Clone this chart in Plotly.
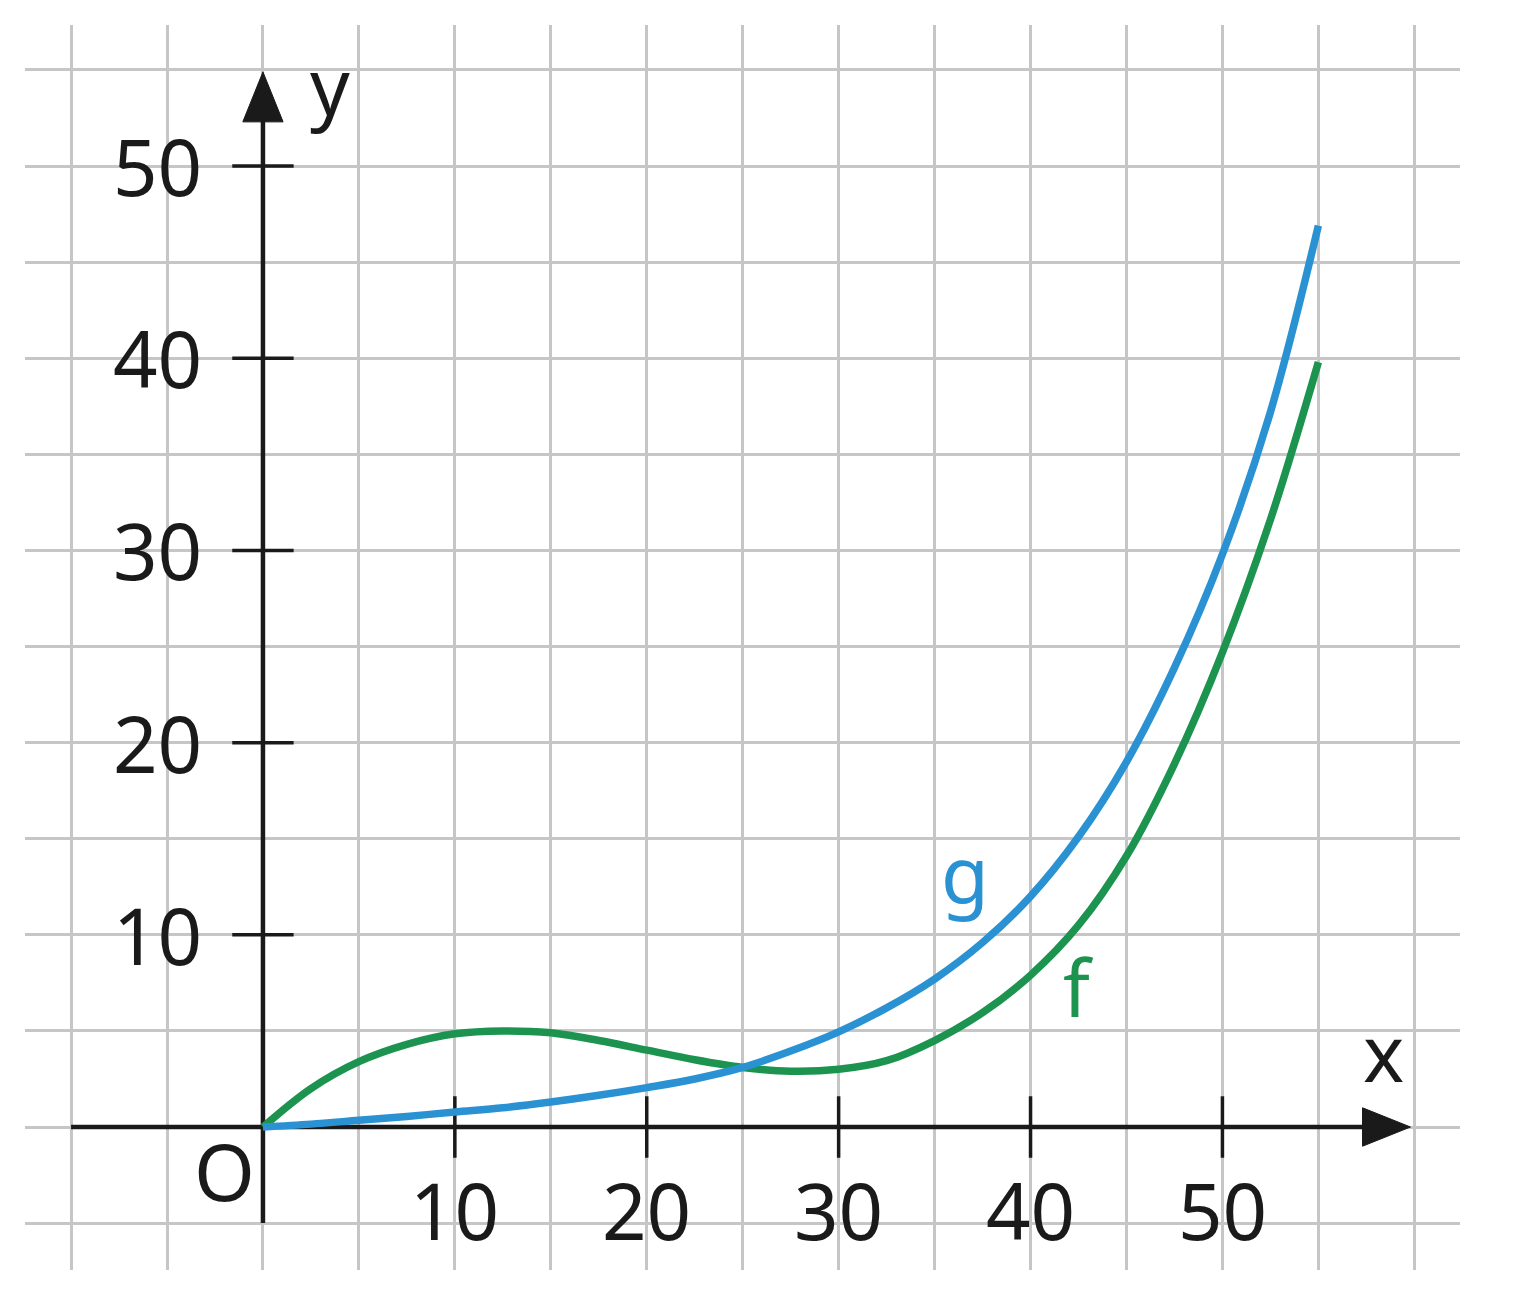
import plotly.graph_objects as go

# ---- data ----
x_vals = [0, 2.5, 5, 7.5, 10, 12.5, 15, 17.5, 20, 22.5, 25, 27.5,
          30, 32.5, 35, 37.5, 40, 42.5, 45, 47.5, 50, 52.5, 55]
g_vals = [0, 0.15, 0.35, 0.55, 0.78, 1.0, 1.3, 1.65, 2.05, 2.5, 3.1, 3.95,
          4.95, 6.2, 7.7, 9.6, 12.0, 15.1, 19.0, 23.9, 29.8, 37.2, 46.9]
f_vals = [0, 2.0, 3.4, 4.3, 4.85, 5.0, 4.9, 4.5, 4.0, 3.5, 3.1, 2.9,
          3.0, 3.45, 4.5, 5.95, 7.9, 10.5, 14.1, 18.9, 24.7, 31.6, 39.8]
x_ticks = [10, 20, 30, 40, 50]
y_ticks = [10, 20, 30, 40, 50]
x_tick_labels = ["10", "20", "30", "40", "50"]
y_tick_labels = ["10", "20", "30", "40", "50"]

BLUE = "#2a92d2"
GREEN = "#1c9450"
INK = "#1a1a1a"
GRID = "#c6c6c6"
FONT = "Noto Sans"
FS = 78

fig = go.Figure()
fig.add_trace(go.Scatter(x=x_vals, y=f_vals, mode="lines",
                         line=dict(color=GREEN, width=7.5, shape="spline", smoothing=1.0),
                         name="f", showlegend=False, hoverinfo="skip"))
fig.add_trace(go.Scatter(x=x_vals, y=g_vals, mode="lines",
                         line=dict(color=BLUE, width=7.5, shape="spline", smoothing=1.0),
                         name="g", showlegend=False, hoverinfo="skip"))

shapes = []
# axes
shapes.append(dict(type="line", xref="x", yref="y", x0=-10, y0=0, x1=57.6, y1=0,
                   line=dict(color=INK, width=4.5), layer="between"))
shapes.append(dict(type="line", xref="x", yref="y", x0=0, y0=-5, x1=0, y1=52.6,
                   line=dict(color=INK, width=4.5), layer="between"))
# arrowheads
shapes.append(dict(type="path", xref="x", yref="y",
                   path="M 57.3,-1.0 L 59.8,0 L 57.3,1.0 Z",
                   fillcolor=INK, line=dict(color=INK, width=1), layer="between"))
shapes.append(dict(type="path", xref="x", yref="y",
                   path="M -1.05,52.3 L 0,54.9 L 1.05,52.3 Z",
                   fillcolor=INK, line=dict(color=INK, width=1), layer="between"))
# tick marks
for t in x_ticks:
    shapes.append(dict(type="line", xref="x", yref="y", x0=t, y0=-1.6, x1=t, y1=1.6,
                       line=dict(color=INK, width=3.5), layer="between"))
for t in y_ticks:
    shapes.append(dict(type="line", xref="x", yref="y", x0=-1.6, y0=t, x1=1.6, y1=t,
                       line=dict(color=INK, width=3.5), layer="between"))

annotations = []
for t, lab in zip(x_ticks, x_tick_labels):
    annotations.append(dict(x=t, y=-4.3, xref="x", yref="y", text=lab, showarrow=False,
                            xanchor="center", yanchor="middle",
                            font=dict(family=FONT, size=FS, color=INK)))
for t, lab in zip(y_ticks, y_tick_labels):
    annotations.append(dict(x=-5.5, y=t, xref="x", yref="y", text=lab, showarrow=False,
                            xanchor="center", yanchor="middle",
                            font=dict(family=FONT, size=FS, color=INK)))
annotations.append(dict(x=-2.0, y=-2.3, xref="x", yref="y", text="O", showarrow=False,
                        xanchor="center", yanchor="middle",
                        font=dict(family=FONT, size=FS, color=INK)))
annotations.append(dict(x=58.4, y=3.9, xref="x", yref="y", text="x", showarrow=False,
                        xanchor="center", yanchor="middle",
                        font=dict(family=FONT, size=FS, color=INK)))
annotations.append(dict(x=3.5, y=54.2, xref="x", yref="y", text="y", showarrow=False,
                        xanchor="center", yanchor="middle",
                        font=dict(family=FONT, size=FS, color=INK)))
annotations.append(dict(x=36.6, y=13.2, xref="x", yref="y", text="g", showarrow=False,
                        xanchor="center", yanchor="middle",
                        font=dict(family=FONT, size=FS, color=BLUE)))
annotations.append(dict(x=42.5, y=7.3, xref="x", yref="y", text="f", showarrow=False,
                        xanchor="center", yanchor="middle",
                        font=dict(family=FONT, size=FS, color=GREEN)))

fig.update_layout(
    width=1519, height=1293,
    margin=dict(l=17, r=67, t=17, b=31),
    paper_bgcolor="white", plot_bgcolor="white",
    shapes=shapes, annotations=annotations,
    xaxis=dict(range=[-12.40, 62.38], showgrid=True, gridcolor=GRID, gridwidth=2.5,
               dtick=5, tick0=0, zeroline=False, showticklabels=False, ticks="",
               showline=False, fixedrange=True),
    yaxis=dict(range=[-7.44, 57.34], showgrid=True, gridcolor=GRID, gridwidth=2.5,
               dtick=5, tick0=0, zeroline=False, showticklabels=False, ticks="",
               showline=False, fixedrange=True),
)

fig.write_html("out.html")
